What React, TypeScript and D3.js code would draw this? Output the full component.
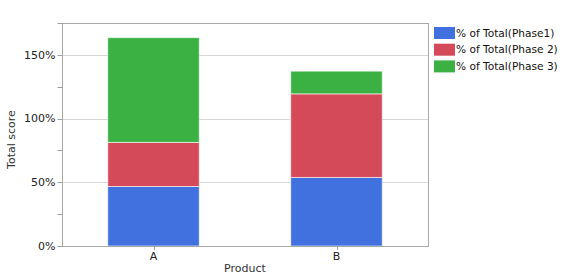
import React, { useEffect, useRef } from "react";
import * as d3 from "d3";

const categories = ["A", "B"];
const seriesNames = ["% of Total(Phase1)", "% of Total(Phase 2)", "% of Total(Phase 3)"];
const phase1 = [46.7, 53.8];
const phase2 = [34.6, 65.6];
const phase3 = [82.2, 17.8];
const colors = ["#4171DE", "#D54A59", "#3BB143"];
const yTicks = [0, 50, 100, 150];

const App: React.FC = () => {
  const svgRef = useRef<SVGSVGElement | null>(null);

  useEffect(() => {
    if (!svgRef.current) return;
    const svg = d3.select(svgRef.current);
    svg.selectAll("*").remove();

    const margin = { top: 23, right: 156, bottom: 34, left: 62 };
    const width = 584;
    const height = 280;
    const w = width - margin.left - margin.right;
    const h = height - margin.top - margin.bottom;
    const font = "'DejaVu Sans', sans-serif";

    const rows = categories.map((c, i) => ({ cat: c, p1: phase1[i], p2: phase2[i], p3: phase3[i] }));
    const stack = d3.stack<any>().keys(["p1", "p2", "p3"]);
    const layers = stack(rows);

    const x = d3.scaleBand().domain(categories).range([0, w]).paddingInner(0).paddingOuter(0);
    const y = d3.scaleLinear().domain([0, 175]).range([h, 0]);
    const barW = x.bandwidth() * 0.5;

    const g = svg.append("g").attr("transform", `translate(${margin.left},${margin.top})`);

    // gridlines
    g.selectAll(".grid")
      .data(yTicks.slice(1))
      .enter()
      .append("line")
      .attr("x1", 0)
      .attr("x2", w)
      .attr("y1", (d) => Math.round(y(d)) + 0.5)
      .attr("y2", (d) => Math.round(y(d)) + 0.5)
      .attr("stroke", "#d6d6d6");

    // bars
    layers.forEach((layer, li) => {
      g.selectAll(`.bar${li}`)
        .data(layer)
        .enter()
        .append("rect")
        .attr("x", (d: any) => x(d.data.cat)! + (x.bandwidth() - barW) / 2)
        .attr("y", (d) => y(d[1]))
        .attr("width", barW)
        .attr("height", (d) => y(d[0]) - y(d[1]))
        .attr("fill", colors[li])
        .attr("stroke", "rgba(255,255,255,0.6)")
        .attr("stroke-width", 1);
    });

    // frame
    g.append("rect")
      .attr("x", 0.5)
      .attr("y", 0.5)
      .attr("width", w)
      .attr("height", h)
      .attr("fill", "none")
      .attr("stroke", "#a9a9a9");

    // y axis
    const yAxis = g.append("g").attr("transform", "translate(0.5,0)");
    yAxis
      .selectAll(".minor")
      .data(d3.range(0, 176, 25))
      .enter()
      .append("line")
      .attr("x1", -5)
      .attr("x2", 0)
      .attr("y1", (d) => Math.round(y(d)) + 0.5)
      .attr("y2", (d) => Math.round(y(d)) + 0.5)
      .attr("stroke", "#a0a0a0");
    yAxis
      .selectAll(".lbl")
      .data(yTicks)
      .enter()
      .append("text")
      .attr("x", -7)
      .attr("y", (d) => y(d))
      .attr("dy", "0.35em")
      .attr("text-anchor", "end")
      .attr("font-family", font)
      .attr("font-size", 11)
      .attr("fill", "#222")
      .text((d) => `${d}%`);

    // x axis labels
    g.selectAll(".xl")
      .data(categories)
      .enter()
      .append("text")
      .attr("x", (d) => x(d)! + x.bandwidth() / 2)
      .attr("y", h + 14)
      .attr("text-anchor", "middle")
      .attr("font-family", font)
      .attr("font-size", 11)
      .attr("fill", "#222")
      .text((d) => d);

    g.selectAll(".xt")
      .data(categories)
      .enter()
      .append("line")
      .attr("x1", (d) => Math.round(x(d)! + x.bandwidth() / 2) + 0.5)
      .attr("x2", (d) => Math.round(x(d)! + x.bandwidth() / 2) + 0.5)
      .attr("y1", h)
      .attr("y2", h + 4)
      .attr("stroke", "#a0a0a0");

    svg
      .append("text")
      .attr("x", margin.left + w / 2)
      .attr("y", 272)
      .attr("text-anchor", "middle")
      .attr("font-family", font)
      .attr("font-size", 11)
      .attr("fill", "#333")
      .text("Product");

    svg
      .append("text")
      .attr("transform", `translate(15,${margin.top + h / 2 + 5}) rotate(-90)`)
      .attr("text-anchor", "middle")
      .attr("font-family", font)
      .attr("font-size", 11)
      .attr("fill", "#333")
      .text("Total score");

    // legend
    const legend = svg.append("g").attr("transform", "translate(434,27)");
    seriesNames.forEach((name, i) => {
      const row = legend.append("g").attr("transform", `translate(0,${i * 16.7})`);
      row.append("rect").attr("width", 21).attr("height", 12).attr("fill", colors[i]);
      row
        .append("text")
        .attr("x", 22)
        .attr("y", 6)
        .attr("dy", "0.35em")
        .attr("font-family", font)
        .attr("font-size", 10.6)
        .attr("fill", "#111")
        .text(name);
    });
  }, []);

  return (
    <div style={{ position: "absolute", left: 0, top: 0 }}>
      <svg ref={svgRef} width={584} height={280} style={{ display: "block", background: "#fff" }}></svg>
    </div>
  );
};

export default App;
